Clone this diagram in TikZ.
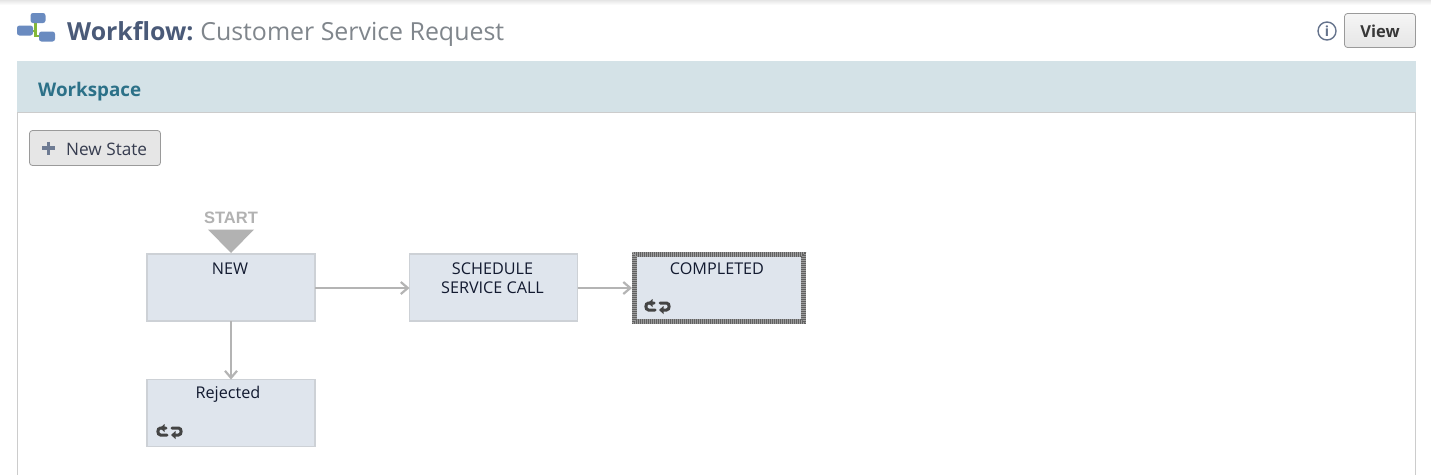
\documentclass[tikz,border=0pt]{standalone}
\usepackage{fontspec}
\setmainfont{Open Sans}
\usetikzlibrary{arrows.meta,shadings}
\definecolor{hdr}{HTML}{D4E2E7}
\definecolor{hdrtxt}{HTML}{2C7188}
\definecolor{boxfill}{HTML}{DFE5ED}
\definecolor{boxline}{HTML}{CDD1D6}
\definecolor{conn}{HTML}{B4B4B4}
\definecolor{titledark}{HTML}{4A5A78}
\definecolor{titlegrey}{HTML}{80868C}
\definecolor{iconblue}{HTML}{6A8BC0}
\definecolor{icongreen}{HTML}{84B838}
\definecolor{btn}{HTML}{E6E6E6}
\definecolor{btnline}{HTML}{9A9A9A}
\definecolor{txt}{HTML}{121A30}
\definecolor{loopc}{HTML}{444444}
\tikzset{
  statebox/.style={draw=boxline,fill=boxfill,line width=1.6pt,minimum width=168pt,minimum height=67pt,inner sep=0pt,outer sep=0pt},
  statetext/.style={font=\fontsize{16.2}{19.5}\selectfont,text=txt,align=center,inner sep=0pt},
  flow/.style={draw=conn,line width=2.5pt,-{Straight Barb[length=7pt,width=12pt,line width=2.2pt]}},
  button/.style={draw=btnline,fill=btn,rounded corners=3pt,line width=.8pt,inner sep=0pt,outer sep=0pt},
  loopline/.style={draw=loopc,line width=3pt,line cap=round},
  iconbox/.style={fill=iconblue,rounded corners=2.5pt,inner sep=0pt,minimum width=15pt,minimum height=9pt},
}
\newcommand{\loopicon}[2]{%
  \begin{scope}[shift={(#1,#2)}]
    \draw[loopline] (9,-3.5) -- (3.5,-3.5) .. controls (0,-3.5) and (0,3.5) .. (3.5,3.5) -- (10,3.5);
    \fill[loopc] (7.5,-7.5) -- (7.5,0.5) -- (3,-3.5) -- cycle;
    \draw[loopline] (15,-3.5) -- (21.5,-3.5) .. controls (25,-3.5) and (25,3.5) .. (21.5,3.5) -- (17,3.5);
    \fill[loopc] (18.5,-0.5) -- (18.5,7.5) -- (14,3.5) -- cycle;
  \end{scope}}
\begin{document}
\begin{tikzpicture}[x=1pt,y=-1pt]
\useasboundingbox (0,0) rectangle (1431,475);
\fill[white] (0,0) rectangle (1431,475);
\shade[top color=black!10,bottom color=white] (0,0) rectangle (1431,5);
% title icon
\draw[icongreen,line width=2.4pt] (26,31) -- (35.5,31) (35.5,20) -- (35.5,36) -- (42,36);
\node[iconbox,minimum width=16pt,minimum height=10pt] (ico1) at (25,30.5) {};
\node[iconbox,minimum width=15pt,minimum height=10pt] (ico2) at (38,18) {};
\node[iconbox,minimum width=16pt,minimum height=10pt] (ico3) at (47,36.5) {};
\node[anchor=base west,inner sep=0pt,font=\fontsize{24.9}{28}\selectfont] (title) at (67,40) {\textcolor{titledark}{\bfseries Workflow:}\hspace{-1.8pt} \textcolor{titlegrey}{Customer Service Request}};
% view
\draw[titledark!85,line width=1.4pt] (1327,31) circle (9pt);
\node[font=\bfseries\fontsize{14}{16}\selectfont,text=titledark!85,inner sep=0pt] (infoi) at (1327,31) {i};
\node[button,minimum width=71pt,minimum height=34pt,shade,top color=white!96!black,bottom color=btn] (view) at (1380,30.5) {};
\node[font=\fontsize{16.5}{19}\selectfont\bfseries,text=black!78,inner sep=0pt] (viewt) at (1380,31) {View};
% panel
\draw[black!20,line width=.9pt] (17.5,112) -- (17.5,475) (1415.5,112) -- (1415.5,475);
\fill[hdr] (17,61) rectangle (1416,112);
\draw[black!20,line width=.9pt] (17,112.5) -- (1416,112.5);
\node[anchor=base west,inner sep=0pt,font=\bfseries\fontsize{18.8}{22}\selectfont,text=hdrtxt] (ws) at (38,96) {Workspace};
% new state
\node[button,minimum width=131pt,minimum height=35pt] (newstate) at (95,148) {};
\draw[line width=3.6pt,titledark!80] (42,148) -- (55,148) (48.5,141.5) -- (48.5,154.5);
\node[anchor=base west,inner sep=0pt,font=\fontsize{17.2}{20}\selectfont,text=txt!85] (nst) at (66,155) {New State};
% start
\node[font=\fontsize{16.5}{18}\selectfont\bfseries,text=black!30,inner sep=0pt] (start) at (231,217.5) {\setmainfont{Liberation Sans}\bfseries START};
\fill[black!30] (208,229.5) -- (254,229.5) -- (231,253) -- cycle;
% states
\node[statebox] (new) at (231,287.5) {};
\node[statebox] (sched) at (493.5,287.5) {};
\node[statebox] (rej) at (231,413) {};
\node[statebox,draw=none,minimum width=174pt,minimum height=72pt] (comp) at (719,288) {};
\draw[black!38,line width=5pt] (634.5,254.5) rectangle (803.5,321.5);
\foreach \o/\ph in {0.5/0,1.5/1,2.5/0,3.5/1,4.5/0}{
  \draw[black!62,line width=1pt,dash pattern=on 1pt off 1pt,dash phase=\ph pt] (632+\o,252+\o) rectangle (806-\o,324-\o);
}
\node[statetext] (newt) at (230,269) {NEW};
\node[statetext] (schedt) at (492.5,278) {SCHEDULE\\SERVICE CALL};
\node[statetext] (compt) at (717,269) {COMPLETED};
\node[statetext] (rejt) at (228,394.5) {Rejected};
\loopicon{645}{306.5}
\loopicon{157}{431.5}
% connectors
\draw[flow] (new.east |- 0,288) -- (sched.west |- 0,288);
\draw[flow] (sched.east |- 0,288) -- (comp.west |- 0,288);
\draw[flow] (new.south) -- (rej.north);
\end{tikzpicture}
\end{document}
